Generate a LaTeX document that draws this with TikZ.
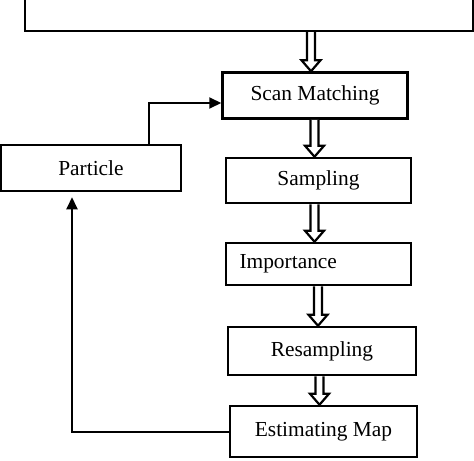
\documentclass[tikz,border=0pt]{standalone}
\usepackage{fontspec}
\setmainfont{Liberation Serif}
\usetikzlibrary{arrows.meta,calc}

% hollow block arrow between two boxes
\newcommand{\hollowarrow}[2]{%
  \draw[hollow] let \p1=(#1.south), \p2=(#2.north) in
    (\x2-4pt,\y1) -- (\x2-4pt,\y2+5.5pt) -- (\x2-6.75pt,\y2+5.5pt) -- (\x2-2pt,\y2)
    -- (\x2+2.75pt,\y2+5.5pt) -- (\x2,\y2+5.5pt) -- (\x2,\y1);}

\begin{document}
\begin{tikzpicture}[
    x=0.5pt, y=-0.5pt,
    box/.style={draw, line width=1.25pt, minimum width=92.5pt, minimum height=23pt, align=center, font=\fontsize{10.7}{12}\selectfont},
    hollow/.style={line width=1.1pt, line join=miter, fill=white},
    link/.style={line width=1pt, -{Triangle[length=6pt,width=5.5pt]}}
  ]
    \useasboundingbox (0,0) rectangle (474,460);

    \node[box, minimum width=224pt, minimum height=30.5pt] (input) at (249,0.5) {};
    \node[box] (scan) at (315,95.5) {Scan Matching};
    \node[box, minimum width=90pt] (particle) at (91,168) {Particle};
    \node[box, minimum height=22.5pt] (sampling) at (318.5,180.5) {Sampling};
    \node[box, minimum height=21pt, text width=79pt, align=left] (importance) at (318.5,264) {Importance};
    \node[box, minimum width=94pt, minimum height=24pt] (resampling) at (322,351) {Resampling};
    \node[box, minimum width=93.5pt, minimum height=25.5pt] (estmap) at (323.5,431.5) {Estimating Map};

    \hollowarrow{input}{scan}
    \hollowarrow{scan}{sampling}
    \hollowarrow{sampling}{importance}
    \hollowarrow{importance}{resampling}
    \hollowarrow{resampling}{estmap}

    \draw[link] ([xshift=29pt]particle.north) |- ([yshift=-3.75pt]scan.west);
    \draw[link, shorten >=2.5pt] (estmap.west) -| ([xshift=-9.5pt]particle.south);
  \end{tikzpicture}
\end{document}
